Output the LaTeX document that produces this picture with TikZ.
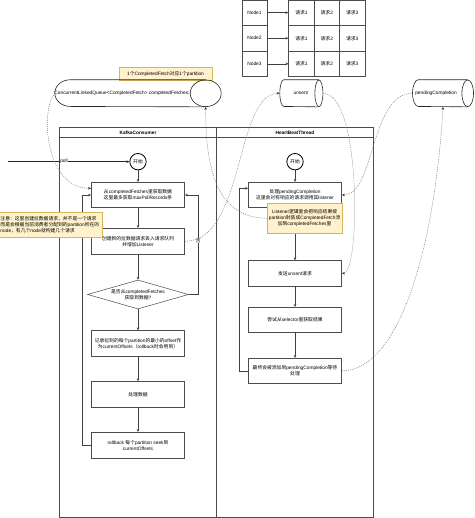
\documentclass[tikz,border=0pt]{standalone}
\usepackage{fontspec}
\setmainfont{Liberation Sans}
\newfontfamily\cjk{Noto Sans CJK SC}
\newcommand{\zh}[1]{{\cjk #1}}
\usetikzlibrary{shapes.geometric,arrows.meta}
\definecolor{notefill}{HTML}{FFF2CC}
\definecolor{noteline}{HTML}{D6B656}
\tikzset{
  box/.style={draw=black!70, fill=white, line width=0.5pt, minimum width=93.3pt, minimum height=25.4pt, inner sep=0pt, align=center},
  startnode/.style={circle, draw=black, fill=white, line width=0.8pt, minimum size=16.4pt, inner sep=0pt},
  decision/.style={diamond, draw=black!70, fill=white, line width=0.5pt, aspect=3.5, minimum width=101pt, minimum height=29pt, inner sep=0pt, align=center},
  cell/.style={draw=black!70, line width=0.5pt, minimum width=25.4pt, minimum height=25.6pt, inner sep=0pt},
  note/.style={draw=noteline, fill=notefill, line width=0.4pt, inner sep=0pt},
  lane/.style={draw=black!70, line width=0.5pt},
  cyl/.style={draw=black!85, line width=0.6pt},
  flow/.style={draw=black!75, line width=0.5pt, -{Stealth[length=3pt,width=2.6pt]}},
  dotline/.style={draw=black!50, line width=0.5pt, dash pattern=on 1pt off 1pt, -{Stealth[length=3pt,width=2.6pt,color=black!80]}},
  lbl/.style={fill=white, inner sep=0.6pt},
}
\newcommand{\hcyl}[7]{%
  \node[minimum width=#3, minimum height=#4, inner sep=0pt] (#1) at (#2) {};
  \draw[cyl] ([xshift=-#5]#1.north east) -- ([xshift=#5]#1.north west)
    arc[start angle=90, end angle=270, x radius=#5, y radius=#4/2]
    -- ([xshift=-#5]#1.south east);
  \draw[cyl] ([xshift=-#5]#1.east) ellipse [x radius=#5, y radius=#4/2];
  \node (#1txt) at ([xshift=#7]#1.center) {#6};
}
\begin{document}
\begin{tikzpicture}[x=1pt, y=-1pt, font=\fontsize{4.8}{6}\selectfont]
  \useasboundingbox (0,0) rectangle (474,518);

  \foreach \i/\y in {1/12.6,2/38.2,3/63.8}{
    \node[cell, minimum width=25pt] (node\i) at (254.5,\y) {Node\i};
    \foreach \j/\x in {1/301.4,2/326.8,3/352.2}
      \node[cell] (req\i\j) at (\x,\y) {\zh{请求}\j};
    \draw[flow] (node\i) -- (req\i1);
  }

  \node[note, minimum width=93pt, minimum height=12.5pt] (partnote) at (165.5,73.5) {1\zh{个}CompletedFetch\zh{对应}1\zh{个}partition};
  \hcyl{queue}{138,93.3}{166pt}{26.7pt}{15.5pt}{ConcurrentLinkedQueue<CompletedFetch> completedFetches;}{-16pt}
  \hcyl{unsent}{301.35,93.3}{42.7pt}{26.7pt}{4pt}{unsent}{-0.5pt}
  \hcyl{pending}{443,93.3}{60.6pt}{26.7pt}{5.8pt}{pendingCompletion}{-7pt}

  \draw[lane] (59.3,127.3) rectangle (216.7,517) (59.3,137.3) -- (216.7,137.3);
  \draw[lane] (216.7,127.3) rectangle (373.3,517) (216.7,137.3) -- (373.3,137.3);
  \node[font=\fontsize{4.8}{6}\selectfont\bfseries] (kafkahead) at (138,132.3) {KafkaConsumer};
  \node[font=\fontsize{4.8}{6}\selectfont\bfseries] (beathead) at (295,132.3) {HeartBeatThread};

  \node[startnode] (startK) at (138,161.7) {\zh{开始}};
  \node[box] (fetch) at (138,195) {\zh{从}completedFetches\zh{里获取数据}\\\zh{这里最多获取}maxPollRecords\zh{条}};
  \node[box, minimum height=26pt] (newreq) at (138,241.3) {\zh{创建新的拉数据请求丢入请求队列}\\\zh{并增加}Listener};
  \node[decision] (haveData) at (138,294.5) {\zh{是否从}completedFetches\\\zh{获取到数据}?};
  \node[box] (record) at (138,343.3) {\zh{记录拉到的每个}partition\zh{的最小的}offset\zh{作}\\\zh{为}currentOffsets\zh{（}rollback\zh{时会用到）}};
  \node[box] (process) at (138,394.2) {\zh{处理数据}};
  \node[box, minimum height=26pt] (rollback) at (138,445.3) {rollback \zh{每个}partition seek\zh{到}\\currentOffsets};

  \coordinate (pollsrc) at (8.3,161.7);
  \draw[flow, draw=black!85] (pollsrc) -- node[lbl, pos=0.46] (polllbl) {poll} (startK);
  \draw[flow] (startK) -- (fetch);
  \draw[flow] (fetch) -- (newreq);
  \draw[flow] (newreq) -- (haveData);
  \draw[flow] (haveData) -- (record);
  \draw[flow] (record) -- (process);
  \draw[flow] (process) -- (rollback);
  \draw[flow] (haveData.east) -- ++(9.4,0) |- node[lbl, pos=0.27] (nolbl) {\zh{否}} (fetch.east);
  \draw[flow] (rollback.west) -- ++(-9,0) |- (fetch.west);

  \node[startnode] (startH) at (295,161.7) {\zh{开始}};
  \node[box] (pend) at (295,195) {\zh{处理}pendingCompletion\\\zh{这里会对有响应的请求调用其}listener};
  \node[box] (send) at (295,273.3) {\zh{发送}unsent\zh{请求}};
  \node[box] (select) at (295,320) {\zh{尝试从}selector\zh{里获取结果}};
  \node[box, minimum height=25pt] (addpend) at (295,370.8) {\zh{最终会被添加到}pendingCompletion\zh{等待}\\\zh{处理}};

  \draw[flow] (startH) -- (pend);
  \draw[flow] (pend) -- (send);
  \draw[flow] (send) -- (select);
  \draw[flow] (select) -- (addpend);
  \draw[flow] (addpend.west) -- ++(-9,0) |- ([yshift=6.7pt]pend.west);

  \draw[dotline] (queue.west) .. controls (40,110) and (45,188.3) .. ([yshift=6.7pt]fetch.west);
  \draw[dotline] (newreq.east) .. controls (245,241.3) and (235,93.3) .. (unsent.west);
  \draw[dotline] (unsent.east) .. controls (362,93.3) and (360,273.3) .. (send.east);
  \draw[dotline] (pending.west) .. controls (370,93.3) and (375,195) .. (pend.east);
  \draw[dotline] (addpend.east) .. controls (400,370.8) and (435,245) .. (pending.south);

  \node[note, minimum width=74.2pt, minimum height=29.3pt, align=center] (lsnote) at (304.6,218.3) {Listener\zh{逻辑里会把响应结果按}\\partition\zh{封装成}CompletedFetch\zh{添}\\\zh{加到}completedFetches\zh{里}};
  \draw[dotline] (lsnote.west) .. controls (215,218) and (205.5,165) .. ([xshift=-15.5pt]queue.south east);

  \node[note, text width=99pt, inner xsep=2.5pt, minimum height=24pt, align=left] (nodenote) at (50,224.7) {\zh{注意：这里创建拉数据请求，并不是一个请求}\\\zh{而是会根据当前消费者分配到的}partition\zh{所在的}\\node\zh{，有几个}node\zh{就构建几个请求}};
\end{tikzpicture}
\end{document}
